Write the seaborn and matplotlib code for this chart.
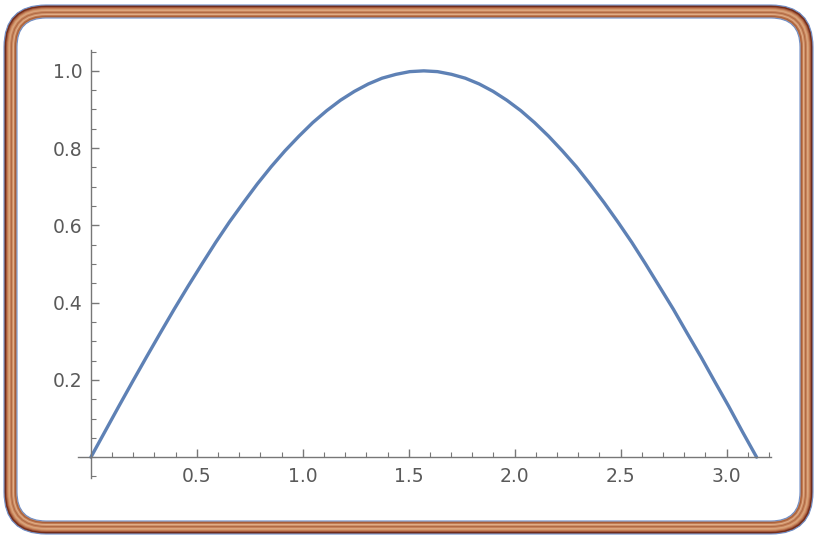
import numpy as np
import pandas as pd
import matplotlib
matplotlib.use("Agg")
import matplotlib.pyplot as plt
from matplotlib.patches import FancyBboxPatch
from matplotlib.ticker import MultipleLocator
import seaborn as sns

# curve (x from 0 to ~3.14)
x_vals = [0.000, 0.065, 0.131, 0.196, 0.262, 0.327, 0.393, 0.458, 0.524,
          0.589, 0.654, 0.720, 0.785, 0.851, 0.916, 0.982, 1.047, 1.113,
          1.178, 1.244, 1.309, 1.374, 1.440, 1.505, 1.571,
          1.636, 1.702, 1.767, 1.833, 1.898, 1.963, 2.029, 2.094, 2.160,
          2.225, 2.291, 2.356, 2.422, 2.487, 2.553, 2.618, 2.683, 2.749,
          2.814, 2.880, 2.945, 3.011, 3.076, 3.142]
y_vals = [0.000, 0.065, 0.131, 0.195, 0.259, 0.321, 0.383, 0.442, 0.500,
          0.556, 0.609, 0.659, 0.707, 0.752, 0.793, 0.831, 0.866, 0.897,
          0.924, 0.947, 0.966, 0.981, 0.991, 0.998, 1.000,
          0.998, 0.991, 0.981, 0.966, 0.947, 0.924, 0.897, 0.866, 0.831,
          0.793, 0.752, 0.707, 0.659, 0.609, 0.556, 0.500, 0.442, 0.383,
          0.321, 0.259, 0.195, 0.131, 0.065, 0.000]
x_ticks = [0.5, 1.0, 1.5, 2.0, 2.5, 3.0]
y_ticks = [0.2, 0.4, 0.6, 0.8, 1.0]

df = pd.DataFrame({"x": x_vals, "y": y_vals})

sns.set_style("white")
plt.rcParams['font.family'] = ['DejaVu Sans']

fig = plt.figure(figsize=(8.2, 5.42), dpi=100)

# wooden rounded frame drawn in pixel coords
bg = fig.add_axes([0, 0, 1, 1], zorder=0)
bg.set_xlim(0, 820)
bg.set_ylim(542, 0)
bg.axis("off")
stripes = ['#8a3e26', '#6e2c1c', '#a4583a', '#c47e56', '#d39a70',
           '#dca67e', '#c6825a', '#b06a44', '#cf9068', '#e0ae88',
           '#c07a52', '#a85e38', '#c8885e']
x0, y0, x1, y1 = 4, 5, 813, 534
r = 42
for i, c in enumerate(stripes):
    bg.add_patch(FancyBboxPatch((x0 + i, y0 + i), (x1 - x0) - 2 * i, (y1 - y0) - 2 * i,
                                boxstyle=f"round,pad=0,rounding_size={r - i}",
                                fc=c, ec='none'))
n = len(stripes)
bg.add_patch(FancyBboxPatch((x0, y0), x1 - x0, y1 - y0,
                            boxstyle=f"round,pad=0,rounding_size={r}",
                            fc='none', ec='#6f8fc8', lw=0.8))
bg.add_patch(FancyBboxPatch((x0 + n, y0 + n), (x1 - x0) - 2 * n, (y1 - y0) - 2 * n,
                            boxstyle=f"round,pad=0,rounding_size={r - n}",
                            fc='white', ec='#6f8fc8', lw=0.8))

ax = fig.add_axes([78 / 820, 64 / 542, 693 / 820, 428 / 542], zorder=1)
ax.patch.set_alpha(0)
sns.lineplot(data=df, x="x", y="y", ax=ax, color='#5e81b5', lw=2.4, sort=False)

ax.set_xlim(-0.061, 3.21)
ax.set_ylim(-0.054, 1.054)
ax.set_xlabel("")
ax.set_ylabel("")
for s in ['top', 'right']:
    ax.spines[s].set_visible(False)
ax.spines['left'].set_position(('data', 0))
ax.spines['bottom'].set_position(('data', 0))
for s in ['left', 'bottom']:
    ax.spines[s].set_color('#777777')
    ax.spines[s].set_linewidth(1)

ax.set_xticks(x_ticks)
ax.set_yticks(y_ticks)
ax.set_xticklabels([f"{v:.1f}" for v in x_ticks])
ax.set_yticklabels([f"{v:.1f}" for v in y_ticks])
ax.xaxis.set_minor_locator(MultipleLocator(0.1))
ax.yaxis.set_minor_locator(MultipleLocator(0.05))
ax.tick_params(which='both', bottom=True, left=True, direction='in')
ax.tick_params(which='major', length=6, width=1, color='#777777',
               labelsize=13.5, labelcolor='#5a5a5a', pad=7)
ax.tick_params(axis='y', which='major', pad=6)
ax.tick_params(which='minor', length=3.5, width=0.8, color='#777777')

plt.savefig("out.png", dpi=100)
